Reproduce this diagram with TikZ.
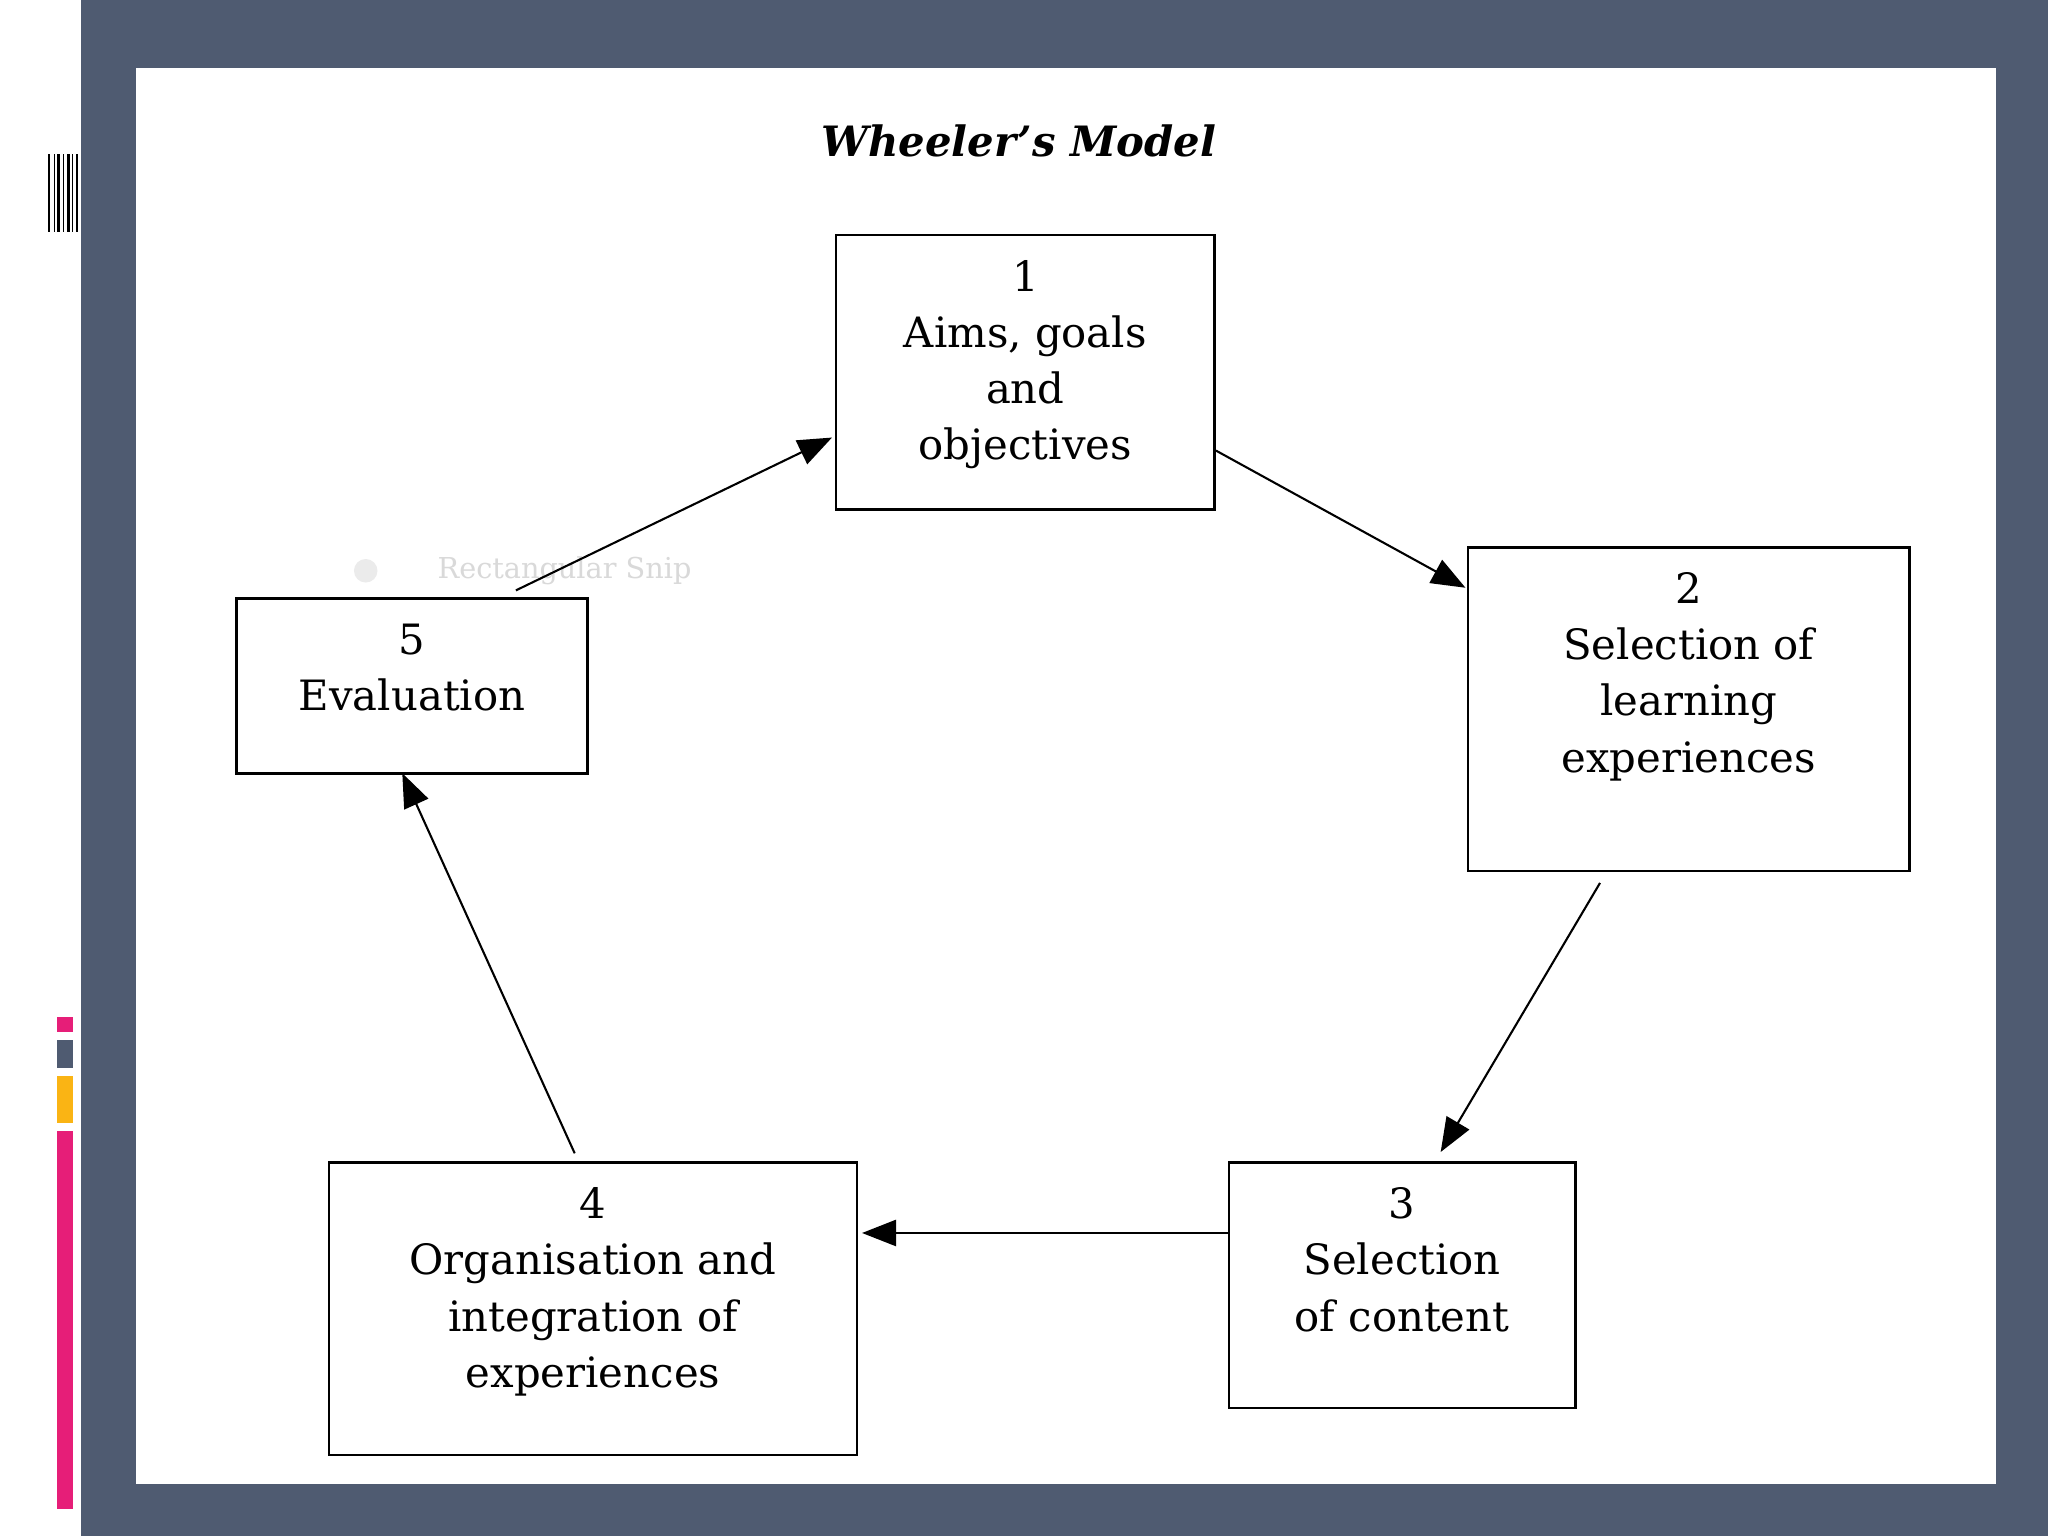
\documentclass[tikz,border=0pt]{standalone}
\usepackage{fontspec}
\setmainfont{DejaVu Serif}
\usetikzlibrary{arrows.meta}
\begin{document}
\begin{tikzpicture}[x=0.5pt,y=-0.5pt,
  box/.style={draw,line width=1pt,inner sep=0pt},
  txt/.style={anchor=north,align=center,inner sep=0pt,font=\fontsize{16}{21.5}\selectfont},
  arr/.style={line width=0.8pt,-{Triangle[length=13pt,width=10pt]}}]
\useasboundingbox (0,0) rectangle (1568,1176);
\fill[white] (0,0) rectangle (1568,1176);
\fill[fill={rgb,255:red,79;green,91;blue,113}] (62,0) rectangle (1568,1176);
\fill[white] (104,52) rectangle (1528,1136);
% left decorations
\foreach \x/\w in {37/1.5,41/1,44/2,48/1,51/2.5,55/1,58/2}{\fill[black] (\x,118) rectangle ++(\w,60);}
\fill[fill={rgb,255:red,230;green,30;blue,120}] (44,779) rectangle (56,790);
\fill[fill={rgb,255:red,79;green,91;blue,113}] (44,796) rectangle (56,818);
\fill[fill={rgb,255:red,250;green,180;blue,20}] (44,824) rectangle (56,860);
\fill[fill={rgb,255:red,230;green,30;blue,120}] (44,866) rectangle (56,1155);
% ghost snip text
\node[text=black!15,font=\fontsize{11}{13}\selectfont,anchor=west] (snip) at (328,437) {Rectangular Snip};
\fill[black!8] (280,437) circle (4.5pt);
% title
\node[font=\fontsize{16}{20}\selectfont\bfseries\itshape] (title) at (780,108) {Wheeler's Model};
% boxes
\node[box,minimum width=145pt,minimum height=105pt] (b1) at (785,285) {};
\node[box,minimum width=169pt,minimum height=124pt] (b2) at (1293,543) {};
\node[box,minimum width=132.5pt,minimum height=94pt] (b3) at (1073.5,984) {};
\node[box,minimum width=202pt,minimum height=112pt] (b4) at (454,1002) {};
\node[box,minimum width=134.5pt,minimum height=67pt] (b5) at (315.5,525) {};
\node[txt] (t1) at ([yshift=-10pt]b1.north) {1\\Aims, goals\\and\\objectives};
\node[txt] (t2) at ([yshift=-10pt]b2.north) {2\\Selection of\\learning\\experiences};
\node[txt] (t3) at ([yshift=-10pt]b3.north) {3\\Selection\\of content};
\node[txt] (t4) at ([yshift=-10pt]b4.north) {4\\Organisation and\\integration of\\experiences};
\node[txt] (t5) at ([yshift=-10pt]b5.north) {5\\Evaluation};
% connectors
\coordinate (a5s) at (395,452); \coordinate (a1e) at (637,335);
\coordinate (a1s) at (931,345); \coordinate (a2e) at (1122,450);
\coordinate (a2s) at (1225,676); \coordinate (a3e) at (1103,882);
\coordinate (a3s) at (940,944); \coordinate (a4e) at (660,944);
\coordinate (a4s) at (440,883); \coordinate (a5e) at (308,592);
\draw[arr] (a5s) -- (a1e);
\draw[arr] (a1s) -- (a2e);
\draw[arr] (a2s) -- (a3e);
\draw[arr] (a3s) -- (a4e);
\draw[arr] (a4s) -- (a5e);
\end{tikzpicture}
\end{document}
